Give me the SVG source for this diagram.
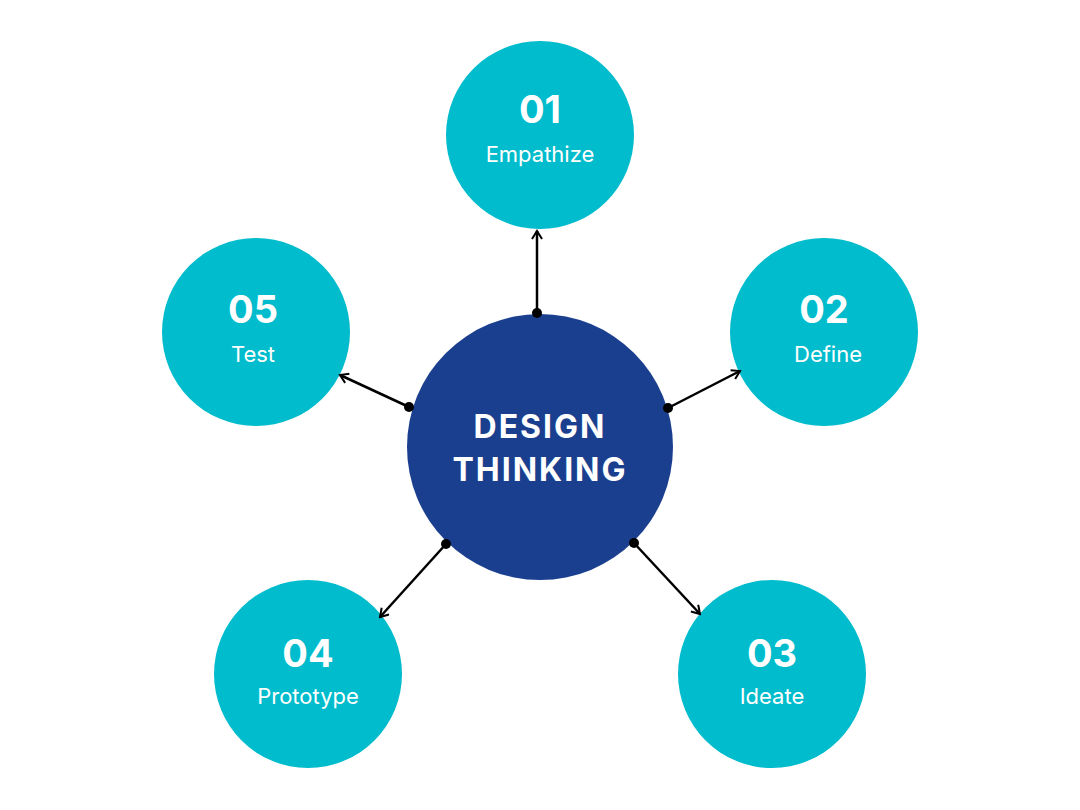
<svg xmlns="http://www.w3.org/2000/svg" width="1080" height="810" viewBox="0 0 1080 810">
<defs>
<marker id="ah" viewBox="0 0 12 12" refX="10" refY="6" markerWidth="12" markerHeight="12" markerUnits="userSpaceOnUse" orient="auto">
<path d="M2,1 L10,6 L2,11" fill="none" stroke="#000" stroke-width="2"/>
</marker>
<style>
.s{fill:#00BCCC}
.num{font-family:Inter,"Open Sans",sans-serif;font-weight:700;font-size:38px;fill:#fff;text-anchor:middle}
.lbl{font-family:Inter,"Open Sans",sans-serif;font-size:22px;fill:#fff;text-anchor:middle}
.c{font-family:Inter,"Open Sans",sans-serif;font-weight:700;font-size:32px;fill:#fff;text-anchor:middle;letter-spacing:2px}
.ln{stroke:#000;stroke-width:2.5;fill:none;marker-end:url(#ah)}
</style>
</defs>
<rect width="1080" height="810" fill="#fff"/>
<g id="center"><circle cx="540" cy="447" r="133" fill="#1B3F8F"/>
<text class="c" x="540" y="438">DESIGN</text><text class="c" x="540" y="481">THINKING</text></g>
<g id="n01"><circle class="s" cx="540" cy="135" r="94"/><text class="num" x="540" y="123">01</text><text class="lbl" x="540" y="162">Empathize</text></g>
<g id="n02"><circle class="s" cx="824" cy="332" r="94"/><text class="num" x="824" y="323">02</text><text class="lbl" x="828" y="362">Define</text></g>
<g id="n03"><circle class="s" cx="772" cy="674" r="94"/><text class="num" x="772" y="667">03</text><text class="lbl" x="772" y="704">Ideate</text></g>
<g id="n04"><circle class="s" cx="308" cy="674" r="94"/><text class="num" x="308" y="667">04</text><text class="lbl" x="308" y="704">Prototype</text></g>
<g id="n05"><circle class="s" cx="256" cy="332" r="94"/><text class="num" x="253" y="323">05</text><text class="lbl" x="253" y="362">Test</text></g>
<g id="connectors">
<line class="ln" x1="537" y1="313" x2="537" y2="231"/>
<line class="ln" x1="668" y1="408" x2="740" y2="371"/>
<line class="ln" x1="634" y1="543" x2="700" y2="614"/>
<line class="ln" x1="446" y1="544" x2="380" y2="617"/>
<line class="ln" x1="409" y1="407" x2="340" y2="375"/>
<circle cx="537" cy="313" r="5"/><circle cx="668" cy="408" r="5"/><circle cx="634" cy="543" r="5"/><circle cx="446" cy="544" r="5"/><circle cx="409" cy="407" r="5"/>
</g>
</svg>
